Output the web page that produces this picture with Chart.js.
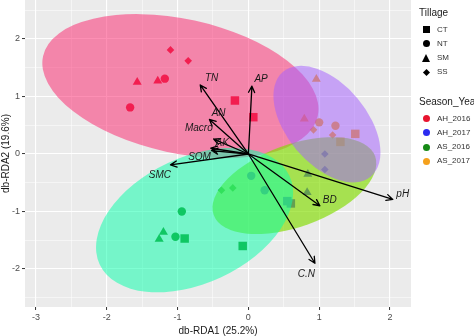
<!DOCTYPE html>
<html>
<head>
<meta charset="utf-8">
<script src="https://cdn.jsdelivr.net/npm/chart.js@4.4.1/dist/chart.umd.min.js"></script>
<style>
  body { margin: 0; background: #fff; font-family: "Liberation Sans", Arial, sans-serif; }
  #wrap { position: relative; width: 474px; height: 336px; overflow: hidden; }
  #rda { position: absolute; left: 0; top: 0; }
  .lg-title { position: absolute; left: 419px; font-size: 10px; color: #1a1a1a; line-height: 12px; white-space: nowrap; }
  .lg-text { position: absolute; left: 437px; font-size: 8px; color: #333; line-height: 10px; }
  .sym { position: absolute; }
</style>
</head>
<body>
<div id="wrap">
  <canvas id="rda" width="474" height="336"></canvas>
</div>
<script>
// Nhóm mùa vụ / năm và kiểu làm đất
const seasonYears = ['AH_2016', 'AH_2017', 'AS_2016', 'AS_2017'];
const tillageTypes = ['CT', 'NT', 'SM', 'SS'];

// Điểm mẫu (site scores) theo từng nhóm, mỗi kiểu làm đất 2 lần lặp
const ah2016Till = ['CT', 'CT', 'NT', 'NT', 'SM', 'SM', 'SS', 'SS'];
const ah2016X = [-0.19, 0.07, -1.18, -1.67, -1.57, -1.28, -1.10, -0.85];
const ah2016Y = [0.93, 0.64, 1.31, 0.81, 1.25, 1.27, 1.81, 1.62];

const ah2017Till = ['CT', 'CT', 'NT', 'NT', 'SM', 'SM', 'SS', 'SS'];
const ah2017X = [0.55, 0.60, 0.04, 0.23, 0.84, 0.83, 1.08, 1.08];
const ah2017Y = [-0.82, -0.86, -0.38, -0.63, -0.35, -0.67, 0.00, -0.27];

const as2016Till = ['CT', 'CT', 'NT', 'NT', 'SM', 'SM', 'SS', 'SS'];
const as2016X = [-0.90, -0.08, -0.94, -1.03, -1.20, -1.26, -0.38, -0.22];
const as2016Y = [-1.47, -1.60, -1.00, -1.44, -1.36, -1.48, -0.63, -0.59];

const as2017Till = ['CT', 'CT', 'NT', 'NT', 'SM', 'SM', 'SS', 'SS'];
const as2017X = [1.51, 1.30, 1.00, 1.23, 0.96, 0.79, 0.92, 1.19];
const as2017Y = [0.35, 0.21, 0.55, 0.49, 1.30, 0.61, 0.42, 0.33];

// Ellipse từng nhóm: tâm và hai bán trục (đơn vị của trục)
const ellipseCx = [-0.96, 0.65, -0.76, 1.11];
const ellipseCy = [1.18, -0.55, -1.15, 0.52];
const ellipseAx = [1.94, 1.14, 1.34, 0.62];
const ellipseAy = [-0.52, 0.51, 0.77, -0.91];
const ellipseBx = [-0.20, 0.20, 0.38, -0.43];
const ellipseBy = [-1.14, -0.67, -0.99, -0.45];

// Vector biến môi trường (đầu mũi tên) và vị trí nhãn
const envVars = ['TN', 'AP', 'AN', 'Macro', 'AK', 'SOM', 'SMC', 'pH', 'BD', 'C.N'];
const envX = [-0.68, 0.05, -0.55, -0.49, -0.53, -0.52, -1.10, 2.04, 1.01, 0.94];
const envY = [1.20, 1.18, 0.60, 0.26, 0.10, 0.06, -0.19, -0.79, -0.90, -1.90];
const envLabelX = [-0.52, 0.18, -0.42, -0.70, -0.37, -0.69, -1.25, 2.18, 1.15, 0.82];
const envLabelY = [1.32, 1.30, 0.71, 0.45, 0.19, -0.05, -0.37, -0.70, -0.80, -2.09];

// Nhãn trục
const xTicks = [-3, -2, -1, 0, 1, 2];
const yTicks = [-2, -1, 0, 1, 2];
const xTitle = 'db-RDA1 (25.2%)';
const yTitle = 'db-RDA2 (19.6%)';

// Màu và hình dạng
const pointColors = ['#e8142f', '#2b2bf0', '#168a16', '#f5a11c'];
const ellipseFills = [
    'rgba(252, 40, 112, 0.52)',
    'rgba(130, 220, 0, 0.66)',
    'rgba(10, 255, 170, 0.52)',
    'rgba(165, 95, 255, 0.52)'
];
const shapeOf = { CT: 'rect', NT: 'circle', SM: 'triangle', SS: 'rectRot' };
const radiusOf = { CT: 6, NT: 4.2, SM: 5.2, SS: 3.8 };

const groupX = [ah2016X, ah2017X, as2016X, as2017X];
const groupY = [ah2016Y, ah2017Y, as2016Y, as2017Y];
const groupTill = [ah2016Till, ah2017Till, as2016Till, as2017Till];

const datasets = seasonYears.map((name, i) => ({
    label: name,
    data: groupX[i].map((v, j) => ({ x: v, y: groupY[i][j] })),
    pointStyle: groupTill[i].map(t => shapeOf[t]),
    pointRadius: groupTill[i].map(t => radiusOf[t]),
    backgroundColor: pointColors[i],
    borderColor: pointColors[i],
    borderWidth: 0
}));

// Lưới phụ ở giữa các vạch chính
function gridValues(major, min, max) {
    const vals = [];
    major.forEach(t => {
        [t - 0.5, t, t + 0.5].forEach(v => {
            if (v >= min && v <= max && !vals.includes(v)) vals.push(v);
        });
    });
    return vals.sort((a, b) => a - b);
}

function axisGrid(major) {
    const isMajor = c => c.tick && major.includes(c.tick.value);
    return {
        color: '#ffffff',
        lineWidth: c => isMajor(c) ? 1.1 : 0.5,
        tickColor: c => isMajor(c) ? '#333333' : 'rgba(0,0,0,0)',
        tickLength: 3,
        tickWidth: 1
    };
}

// Bỏ phần đệm mà Chart.js tự thêm cho nhãn ở mép
function noEdgePadding(s) {
    s.paddingTop = 0;
    s.paddingBottom = 0;
    s.paddingLeft = 0;
    s.paddingRight = 0;
}

// Nền panel, ellipse, mũi tên và nhãn biến
const rdaPlugin = {
    id: 'rdaLayers',
    beforeDraw(chart) {
        const { ctx, chartArea: a } = chart;
        ctx.save();
        ctx.fillStyle = '#ebebeb';
        ctx.fillRect(a.left, a.top, a.right - a.left, a.bottom - a.top);
        ctx.restore();
    },
    afterDatasetsDraw(chart) {
        const { ctx, chartArea: a } = chart;
        const x = chart.scales.x, y = chart.scales.y;
        ctx.save();
        ctx.beginPath();
        ctx.rect(a.left, a.top, a.right - a.left, a.bottom - a.top);
        ctx.clip();

        ellipseCx.forEach((cxv, i) => {
            const cx = x.getPixelForValue(cxv);
            const cy = y.getPixelForValue(ellipseCy[i]);
            const ax = x.getPixelForValue(cxv + ellipseAx[i]) - cx;
            const ay = y.getPixelForValue(ellipseCy[i] + ellipseAy[i]) - cy;
            const bx = x.getPixelForValue(cxv + ellipseBx[i]) - cx;
            const by = y.getPixelForValue(ellipseCy[i] + ellipseBy[i]) - cy;
            ctx.beginPath();
            ctx.ellipse(cx, cy, Math.hypot(ax, ay), Math.hypot(bx, by), Math.atan2(ay, ax), 0, Math.PI * 2);
            ctx.fillStyle = ellipseFills[i];
            ctx.fill();
        });

        const ox = x.getPixelForValue(0), oy = y.getPixelForValue(0);
        ctx.strokeStyle = '#000';
        ctx.lineWidth = 1.3;
        ctx.lineCap = 'round';
        envVars.forEach((name, i) => {
            const ex = x.getPixelForValue(envX[i]);
            const ey = y.getPixelForValue(envY[i]);
            const ang = Math.atan2(ey - oy, ex - ox);
            ctx.beginPath();
            ctx.moveTo(ox, oy);
            ctx.lineTo(ex, ey);
            [-0.45, 0.45].forEach(d => {
                ctx.moveTo(ex, ey);
                ctx.lineTo(ex - 7 * Math.cos(ang + d), ey - 7 * Math.sin(ang + d));
            });
            ctx.stroke();
        });

        ctx.fillStyle = '#1a1a1a';
        ctx.font = 'italic 10px "Liberation Sans", Arial, sans-serif';
        ctx.textAlign = 'center';
        ctx.textBaseline = 'middle';
        envVars.forEach((name, i) => {
            ctx.fillText(name, x.getPixelForValue(envLabelX[i]), y.getPixelForValue(envLabelY[i]));
        });
        ctx.restore();
    }
};

const rdaChart = new Chart(document.getElementById('rda'), {
    type: 'scatter',
    data: { datasets },
    options: {
        responsive: false,
        animation: false,
        layout: { autoPadding: false, padding: { left: 0, right: 63, top: 0, bottom: 0 } },
        plugins: {
            legend: { display: false },
            tooltip: { enabled: false }
        },
        scales: {
            x: {
                type: 'linear',
                min: -3.155,
                max: 2.297,
                afterBuildTicks: s => { s.ticks = gridValues(xTicks, s.min, s.max).map(v => ({ value: v })); },
                afterFit: s => { s.height = 29; noEdgePadding(s); },
                border: { display: false },
                grid: axisGrid(xTicks),
                ticks: {
                    autoSkip: false,
                    maxRotation: 0,
                    padding: 2,
                    color: '#4d4d4d',
                    font: { family: '"Liberation Sans", Arial, sans-serif', size: 9 },
                    callback: v => xTicks.includes(v) ? String(v) : ''
                },
                title: {
                    display: true,
                    text: xTitle,
                    color: '#1a1a1a',
                    font: { family: '"Liberation Sans", Arial, sans-serif', size: 10 },
                    padding: { top: 0, bottom: -1 }
                }
            },
            y: {
                type: 'linear',
                min: -2.661,
                max: 2.678,
                afterBuildTicks: s => { s.ticks = gridValues(yTicks, s.min, s.max).map(v => ({ value: v })); },
                afterFit: s => { s.width = 25; noEdgePadding(s); },
                border: { display: false },
                grid: axisGrid(yTicks),
                ticks: {
                    autoSkip: false,
                    padding: 2,
                    color: '#4d4d4d',
                    font: { family: '"Liberation Sans", Arial, sans-serif', size: 9 },
                    callback: v => yTicks.includes(v) ? String(v) : ''
                },
                title: {
                    display: true,
                    text: yTitle,
                    color: '#1a1a1a',
                    font: { family: '"Liberation Sans", Arial, sans-serif', size: 10 },
                    padding: { top: 0, bottom: 0 }
                }
            }
        }
    },
    plugins: [rdaPlugin]
});

// Chú giải bên phải: Tillage và Season_Year
const wrap = document.getElementById('wrap');
function addLegendBlock(title, titleTop, labels, makeSymbol) {
    const t = document.createElement('div');
    t.className = 'lg-title';
    t.style.top = (titleTop - 6) + 'px';
    t.textContent = title;
    wrap.appendChild(t);
    labels.forEach((lab, i) => {
        const cy = titleTop + 16.5 + i * 14.3;
        const s = makeSymbol(lab, i);
        s.classList.add('sym');
        s.style.top = (cy - parseFloat(s.dataset.h) / 2) + 'px';
        wrap.appendChild(s);
        const txt = document.createElement('div');
        txt.className = 'lg-text';
        txt.style.top = (cy - 5) + 'px';
        txt.textContent = lab;
        wrap.appendChild(txt);
    });
}

function tillageSymbol(lab) {
    const s = document.createElement('div');
    if (lab === 'CT') {
        Object.assign(s.style, { left: '422.5px', width: '7px', height: '7px', background: '#000' });
        s.dataset.h = 7;
    } else if (lab === 'NT') {
        Object.assign(s.style, { left: '422.5px', width: '7px', height: '7px', background: '#000', borderRadius: '50%' });
        s.dataset.h = 7;
    } else if (lab === 'SM') {
        Object.assign(s.style, { left: '421.5px', width: '0', height: '0', borderLeft: '4.5px solid transparent', borderRight: '4.5px solid transparent', borderBottom: '8px solid #000' });
        s.dataset.h = 8;
    } else {
        Object.assign(s.style, { left: '423.5px', width: '5px', height: '5px', background: '#000', transform: 'rotate(45deg)' });
        s.dataset.h = 5;
    }
    return s;
}

function seasonSymbol(lab, i) {
    const s = document.createElement('div');
    Object.assign(s.style, { left: '422.5px', width: '7px', height: '7px', background: pointColors[i], borderRadius: '50%' });
    s.dataset.h = 7;
    return s;
}

addLegendBlock('Tillage', 13, tillageTypes, tillageSymbol);
addLegendBlock('Season_Year', 102, seasonYears, seasonSymbol);
</script>
</body>
</html>
